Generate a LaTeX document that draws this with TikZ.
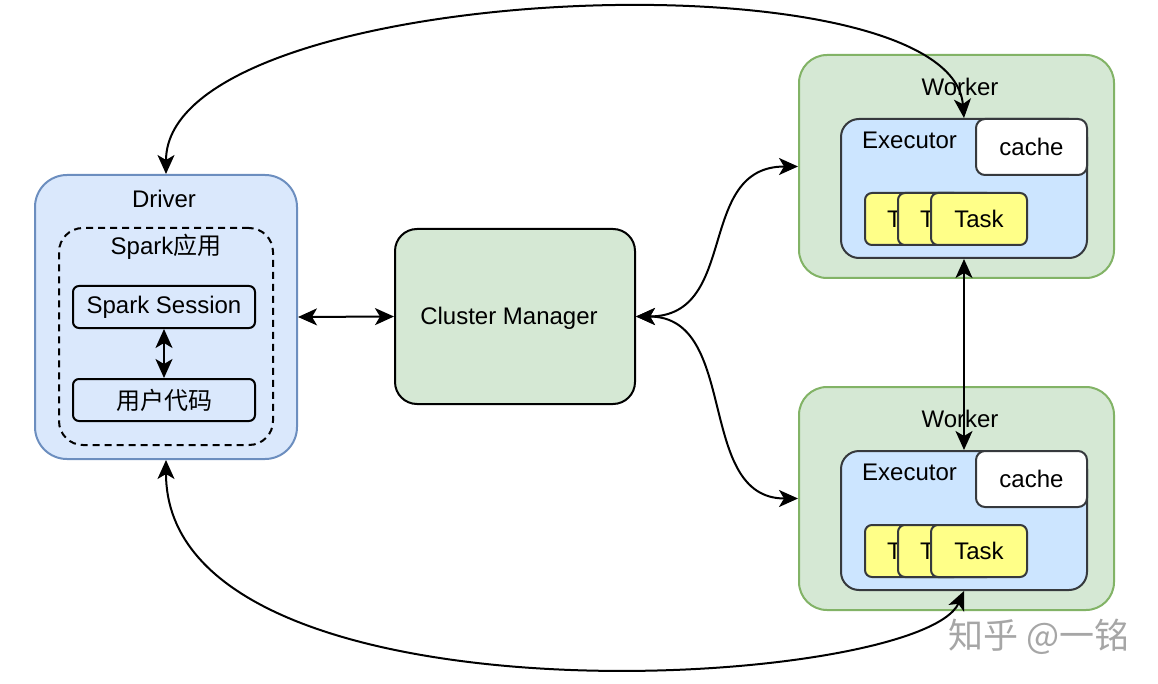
\documentclass[tikz,border=0pt]{standalone}
\usepackage{fontspec}
\setmainfont{Liberation Sans}
\newfontfamily\cjk{Noto Sans CJK SC}
\usetikzlibrary{arrows.meta}
\definecolor{drvfill}{HTML}{DAE8FC}
\definecolor{drvline}{HTML}{6C8EBF}
\definecolor{wkfill}{HTML}{D5E8D4}
\definecolor{wkline}{HTML}{82B366}
\definecolor{exfill}{HTML}{CCE5FF}
\definecolor{exline}{HTML}{36393D}
\definecolor{tkfill}{HTML}{FFFF88}
\definecolor{wmark}{HTML}{A6A6A6}
\begin{document}
\begin{tikzpicture}[x=1pt,y=-1pt,
  txt/.style={font=\fontsize{24}{28}\selectfont, inner sep=0pt},
  box/.style={draw, line width=2pt, inner sep=0pt},
  drvbox/.style={box, draw=drvline, fill=drvfill, rounded corners=32pt},
  inbox/.style={box, draw=black, minimum width=182pt, minimum height=42pt, rounded corners=6pt},
  wkbox/.style={box, draw=wkline, fill=wkfill, minimum width=315pt, minimum height=223pt, rounded corners=28pt},
  exbox/.style={box, draw=exline, fill=exfill, minimum width=246pt, minimum height=139pt, rounded corners=18pt},
  cachebox/.style={box, draw=exline, fill=white, minimum width=111pt, minimum height=56pt, rounded corners=9pt, txt},
  taskbox/.style={box, draw=exline, fill=tkfill, minimum width=96pt, minimum height=52pt, rounded corners=7pt, txt},
  arr/.style={<->, >={Stealth[length=19pt,width=17pt,inset=5pt]}, line width=2pt}
]
\useasboundingbox (0,0) rectangle (1158,684);
% Driver
\node[drvbox, minimum width=262pt, minimum height=284pt] (driver) at (166,317) {};
\node[txt] (drvlab) at (164,199) {Driver};
\node[box, dashed, dash pattern=on 7pt off 5pt, minimum width=214pt, minimum height=217pt, rounded corners=24pt] (app) at (166,336.5) {};
\node[txt] (applab) at (166,247) {Spark{\cjk 应用}};
\node[inbox, txt] (sess) at (164,307) {Spark Session};
\node[inbox, txt] (code) at (164,400) {\cjk 用户代码};
% Cluster manager
\node[box, draw=black, fill=wkfill, minimum width=240pt, minimum height=175pt, rounded corners=22pt] (cm) at (515,316.5) {};
\node[txt] (cmlab) at (509,318) {Cluster Manager};
% Worker 1
\node[wkbox] (wk1) at (956.5,166.5) {};
\node[txt] (wk1lab) at (960,87) {Worker};
\node[exbox] (ex1) at (964,188.5) {};
\node[txt, anchor=west] (ex1lab) at (862,140) {Executor};
\node[cachebox] (ca1) at (1031.5,147) {cache};
\node[taskbox] (t1a) at (913,219) {};
\node[txt] (t1alab) at (894.5,219) {T};
\node[taskbox] (t1b) at (946,219) {};
\node[txt] (t1blab) at (927.5,219) {T};
\node[taskbox] (t1c) at (979,219) {Task};
% Worker 2
\node[wkbox] (wk2) at (956.5,498.5) {};
\node[txt] (wk2lab) at (960,419) {Worker};
\node[exbox] (ex2) at (964,520.5) {};
\node[txt, anchor=west] (ex2lab) at (862,472) {Executor};
\node[cachebox] (ca2) at (1031.5,479) {cache};
\node[taskbox] (t2a) at (913,551) {};
\node[txt] (t2alab) at (894.5,551) {T};
\node[taskbox] (t2b) at (946,551) {};
\node[txt] (t2blab) at (927.5,551) {T};
\node[taskbox] (t2c) at (979,551) {Task};
% watermark
\node[inner sep=0pt, text=wmark, font=\cjk\fontsize{35}{38}\selectfont] (wm) at (1039,637) {知乎 @一铭};
% connectors
\draw[arr] (sess.south) -- (code.north);
\draw[arr] (driver.east) -- (cm.west);
\draw[arr] (cm.east) .. controls (740,316.5) and (695,166.5) .. (wk1.west);
\draw[arr] (cm.east) .. controls (740,316.5) and (695,498.5) .. (wk2.west);
\draw[arr] (ex1.south) -- (ex2.north);
\draw[arr] (driver.north) .. controls (166,-20) and (950,-50) .. (ex1.north);
\draw[arr] (driver.south) .. controls (166,735) and (920,690) .. (ex2.south);
\end{tikzpicture}
\end{document}
